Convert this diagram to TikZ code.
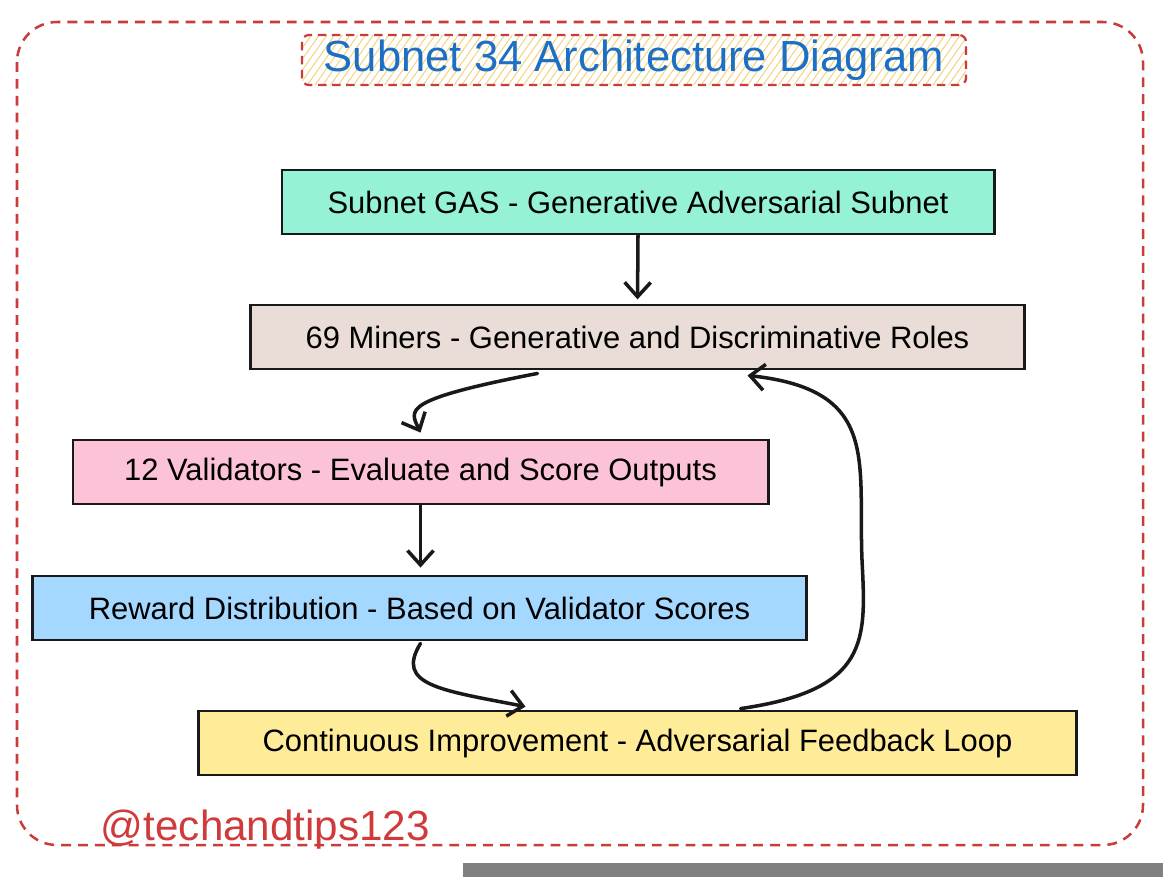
\documentclass[tikz,border=0pt]{standalone}
\usepackage{fontspec}
\setmainfont{Liberation Sans}
\usetikzlibrary{arrows.meta, positioning, calc, patterns.meta}
\definecolor{mMint}{HTML}{96F2D7}
\definecolor{mSand}{HTML}{EADDD7}
\definecolor{mPink}{HTML}{FCC2D7}
\definecolor{mSky}{HTML}{A5D8FF}
\definecolor{mButter}{HTML}{FFEC99}
\definecolor{mFrame}{HTML}{C93C3C}
\definecolor{mTitle}{HTML}{1C6FC4}
\definecolor{mHatch}{HTML}{F2D27A}
\definecolor{mHandle}{HTML}{D03A3A}
\definecolor{mBar}{HTML}{808080}

\tikzset{
  stagebox/.style={draw=black!90, line width=2pt, minimum height=1.6cm, inner sep=0pt,
    font=\fontsize{22}{26}\selectfont},
  flow/.style={-{Straight Barb[length=3.6mm, width=6.5mm]}, line width=2.5pt, black!90, line cap=round},
}

\begin{document}
\begin{tikzpicture}[x=0.025cm, y=-0.025cm]
    \useasboundingbox (0,0) rectangle (1163,877);
    % outer frame
    \draw[mFrame, line width=1.8pt, dash pattern=on 7pt off 5pt, rounded corners=1cm]
      (17,22) rectangle (1143,845);
    % title
    \node[pattern={Lines[angle=55, distance=4.5pt, line width=0.7pt]}, pattern color=mHatch,
      draw=mFrame, line width=1.6pt, dash pattern=on 6pt off 4pt, rounded corners=5pt,
      minimum width=16.6cm, minimum height=1cm, text=mTitle, font=\fontsize{31}{34}\selectfont]
      (title) at (634,60) {Subnet 34 Architecture Diagram};
    % stages
    \foreach \nm/\fc/\cx/\cy/\w/\txt in
      {gas/mMint/638/202/17.8/Subnet GAS - Generative Adversarial Subnet,
       miners/mSand/637.5/337/19.325/69 Miners - Generative and Discriminative Roles,
       validators/mPink/420.5/472/17.375/12 Validators - Evaluate and Score Outputs,
       reward/mSky/419.5/608/19.325/Reward Distribution - Based on Validator Scores,
       improve/mButter/637.5/743/21.925/Continuous Improvement - Adversarial Feedback Loop} {
      \node[stagebox, fill=\fc, minimum width=\w cm] (\nm) at (\cx,\cy) {\txt};
    }
    % connectors
    \draw[flow, shorten >=3pt] (gas.south) -- (miners.north);
    \draw[flow] ($(miners.south)+(-100,3)$) .. controls (400,400) and (410,410) .. ($(validators.north)+(0,-6)$);
    \draw[flow, shorten >=5pt] (validators.south) -- (validators.south |- reward.north);
    \draw[flow] ($(reward.south)+(1,2)$) .. controls (395,685) and (440,690) .. ($(improve.north)+(-112,-3)$);
    \draw[flow] ($(improve.north)+(103,-1)$) .. controls (870,690) and (866,640) .. (862,560)
      .. controls (858,460) and (880,390) .. ($(miners.south)+(110,5)$);
    % handle
    \node[text=mHandle, font=\fontsize{30}{32}\selectfont, anchor=west] (handle) at (96,830) {@techandtips123};
    \fill[mBar] (463,863) rectangle (1163,877);
\end{tikzpicture}
\end{document}
